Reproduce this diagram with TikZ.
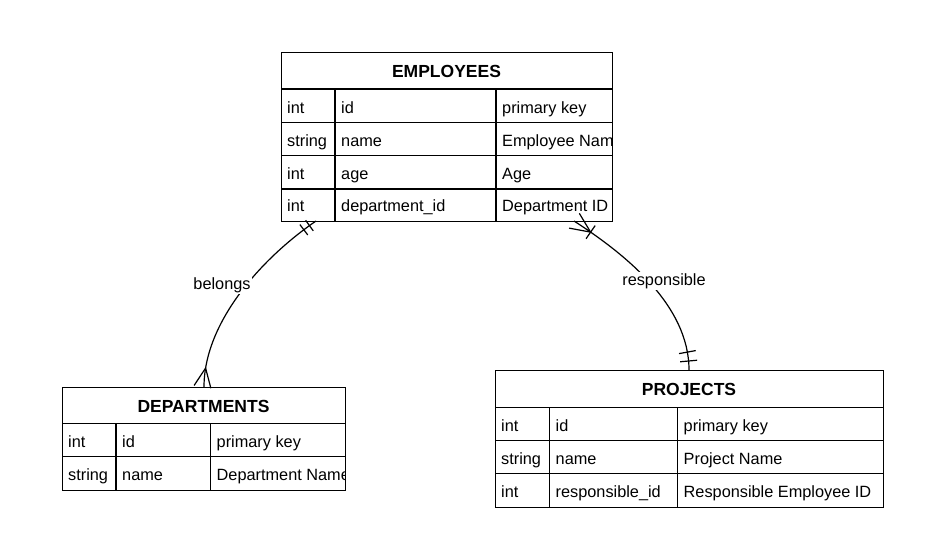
\documentclass[tikz,border=0pt]{standalone}
\usepackage{fontspec}
\setmainfont{Liberation Sans}
\usetikzlibrary{decorations.markings}
\begin{document}
\begin{tikzpicture}[x=1pt,y=-1pt,
  tbl/.style={draw, line width=1.2pt, rectangle, inner sep=0pt, anchor=north west},
  grid/.style={line width=1.2pt},
  cell/.style={anchor=base west, inner sep=0pt, font=\fontsize{16.3}{19}\selectfont},
  head/.style={anchor=base, inner sep=0pt, font=\fontsize{17.5}{20}\selectfont\bfseries},
  rel/.style={line width=1.2pt},
  lbl/.style={fill=white, inner sep=1.5pt, anchor=base, font=\fontsize{16.3}{19}\selectfont}]
\useasboundingbox (0,0) rectangle (936,545);

% ---------- EMPLOYEES ----------
\node[tbl, minimum width=331pt, minimum height=169pt] (emp) at (281,52) {};
\draw[grid] (281,89) -- (612,89);
\draw[grid] (281,122.5) -- (612,122.5);
\draw[grid] (281,155.5) -- (612,155.5);
\draw[grid] (281,189) -- (612,189);
\draw[grid] (335,89) -- (335,221);
\draw[grid] (496,89) -- (496,221);
\node[head] (empH) at (446.5,77.5) {EMPLOYEES};
\begin{scope}
\clip (281,52) rectangle (612,221);
\node[cell] (e11) at (287,113.3) {int};
\node[cell] (e12) at (341,113.3) {id};
\node[cell] (e13) at (502,113.3) {primary key};
\node[cell] (e21) at (287,146.7) {string};
\node[cell] (e22) at (341,146.7) {name};
\node[cell] (e23) at (502,146.7) {Employee Name};
\node[cell] (e31) at (287,179.5) {int};
\node[cell] (e32) at (341,179.5) {age};
\node[cell] (e33) at (502,179.5) {Age};
\node[cell] (e41) at (287,212) {int};
\node[cell] (e42) at (341,212) {department\_id};
\node[cell] (e43) at (502,212) {Department ID};
\end{scope}

% ---------- DEPARTMENTS ----------
\node[tbl, minimum width=283pt, minimum height=102.5pt] (dep) at (62,387) {};
\draw[grid] (62,423.5) -- (345,423.5);
\draw[grid] (62,456.5) -- (345,456.5);
\draw[grid] (116,423.5) -- (116,489.5);
\draw[grid] (210.5,423.5) -- (210.5,489.5);
\node[head] (depH) at (203.5,412.3) {DEPARTMENTS};
\begin{scope}
\clip (62,387) rectangle (345,489.5);
\node[cell] (d11) at (68,447) {int};
\node[cell] (d12) at (122,447) {id};
\node[cell] (d13) at (216.5,447) {primary key};
\node[cell] (d21) at (68,480) {string};
\node[cell] (d22) at (122,480) {name};
\node[cell] (d23) at (216.5,480) {Department Name};
\end{scope}

% ---------- PROJECTS ----------
\node[tbl, minimum width=388pt, minimum height=136.5pt] (prj) at (495,370) {};
\draw[grid] (495,407.5) -- (883,407.5);
\draw[grid] (495,440.5) -- (883,440.5);
\draw[grid] (495,473.5) -- (883,473.5);
\draw[grid] (549.5,407.5) -- (549.5,506.5);
\draw[grid] (677.5,407.5) -- (677.5,506.5);
\node[head] (prjH) at (689,395) {PROJECTS};
\node[cell] (p11) at (501,431) {int};
\node[cell] (p12) at (555.5,431) {id};
\node[cell] (p13) at (683.5,431) {primary key};
\node[cell] (p21) at (501,464) {string};
\node[cell] (p22) at (555.5,464) {name};
\node[cell] (p23) at (683.5,464) {Project Name};
\node[cell] (p31) at (501,497) {int};
\node[cell] (p32) at (555.5,497) {responsible\_id};
\node[cell] (p33) at (683.5,497) {Responsible Employee ID};

% ---------- relations ----------
\coordinate (b1) at (316,221);
\coordinate (b2) at (204,387);
\draw[rel, postaction={decorate}, decoration={markings,
   mark=at position 8pt with {\draw[rel] (0,-6.5pt) -- (0,6.5pt);},
   mark=at position 15pt with {\draw[rel] (0,-6.5pt) -- (0,6.5pt);},
   mark=at position -19pt with {\draw[rel] (19pt,8.5pt) -- (0,0) -- (19pt,-8.5pt);}}]
  (b1) .. controls (262,258) and (204,322) .. (b2);
\node[lbl] (belongs) at (222,289.5) {belongs};

\coordinate (r1) at (574,221);
\coordinate (r2) at (689,370);
\draw[rel, postaction={decorate}, decoration={markings,
   mark=at position 20pt with {\draw[rel] (-20pt,9pt) -- (0,0) -- (-20pt,-9pt); \draw[rel] (0,-8pt) -- (0,8pt);},
   mark=at position -18pt with {\draw[rel] (0,-8.5pt) -- (0,8.5pt);},
   mark=at position -9pt with {\draw[rel] (0,-8.5pt) -- (0,8.5pt);}}]
  (r1) .. controls (625,254) and (689,305) .. (r2);
\node[lbl] (responsible) at (664,285.5) {responsible};
\end{tikzpicture}
\end{document}
